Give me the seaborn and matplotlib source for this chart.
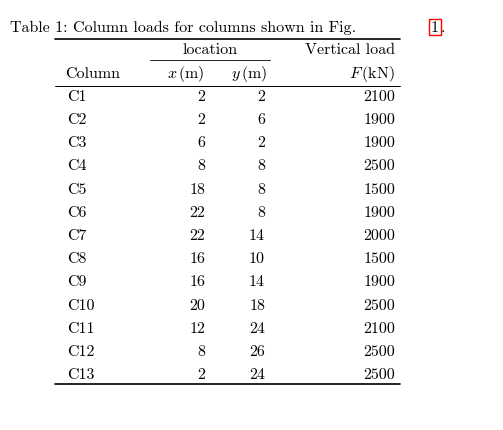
import seaborn as sns
import matplotlib.pyplot as plt

# Table data
columns = ["C1", "C2", "C3", "C4", "C5", "C6", "C7", "C8", "C9", "C10", "C11", "C12", "C13"]
x_m = [2, 2, 6, 8, 18, 22, 22, 16, 16, 20, 12, 8, 2]
y_m = [2, 6, 2, 8, 8, 8, 14, 10, 14, 18, 24, 26, 24]
load_kn = [2100, 1900, 1900, 2500, 1500, 1900, 2000, 1500, 1900, 2500, 2100, 2500, 2500]

sns.set_theme(style="white")
plt.rcParams['font.family'] = ['cmr10', 'DejaVu Serif']
plt.rcParams['mathtext.fontset'] = 'cm'
plt.rcParams['text.color'] = 'black'

fig = plt.figure(figsize=(5.03, 4.31), dpi=100)
ax = fig.add_axes([0, 0, 1, 1])
ax.set_xlim(0, 503)
ax.set_ylim(431, 0)
ax.axis("off")

fs = 11.5
# caption
cap = ax.text(10, 28, "Table 1: Column loads for columns shown in Fig.", fontsize=fs, va="center", ha="left")
ax.text(435, 28, "1", fontsize=fs, va="center", ha="center",
        bbox=dict(boxstyle="square,pad=0.1", fc="none", ec="red", lw=1))
ax.text(441, 28, ".", fontsize=fs, va="center", ha="left")

# rules
ax.plot([55, 400], [40, 40], color="black", lw=1.2)
ax.plot([150, 270], [61, 61], color="black", lw=0.6)
ax.plot([55, 400], [87, 87], color="black", lw=0.7)
ax.plot([55, 400], [385, 385], color="black", lw=1.2)

# headers
ax.text(210, 50, "location", fontsize=fs, va="center", ha="center")
ax.text(395, 50, "Vertical load", fontsize=fs, va="center", ha="right")
ax.text(65, 74, "Column", fontsize=fs, va="center", ha="left")
ax.text(205, 74, r"$x\,(\mathrm{m})$", fontsize=fs, va="center", ha="right")
ax.text(267, 74, r"$y\,(\mathrm{m})$", fontsize=fs, va="center", ha="right")
ax.text(395, 74, r"$F\,(\mathrm{kN})$", fontsize=fs, va="center", ha="right")

# body
for i, (c, xv, yv, f) in enumerate(zip(columns, x_m, y_m, load_kn)):
    yy = 97 + i * 23.2
    ax.text(67, yy, c, fontsize=fs, va="center", ha="left")
    ax.text(205, yy, str(xv), fontsize=fs, va="center", ha="right")
    ax.text(265, yy, str(yv), fontsize=fs, va="center", ha="right")
    ax.text(395, yy, str(f), fontsize=fs, va="center", ha="right")

fig.savefig("out.png", dpi=100)
